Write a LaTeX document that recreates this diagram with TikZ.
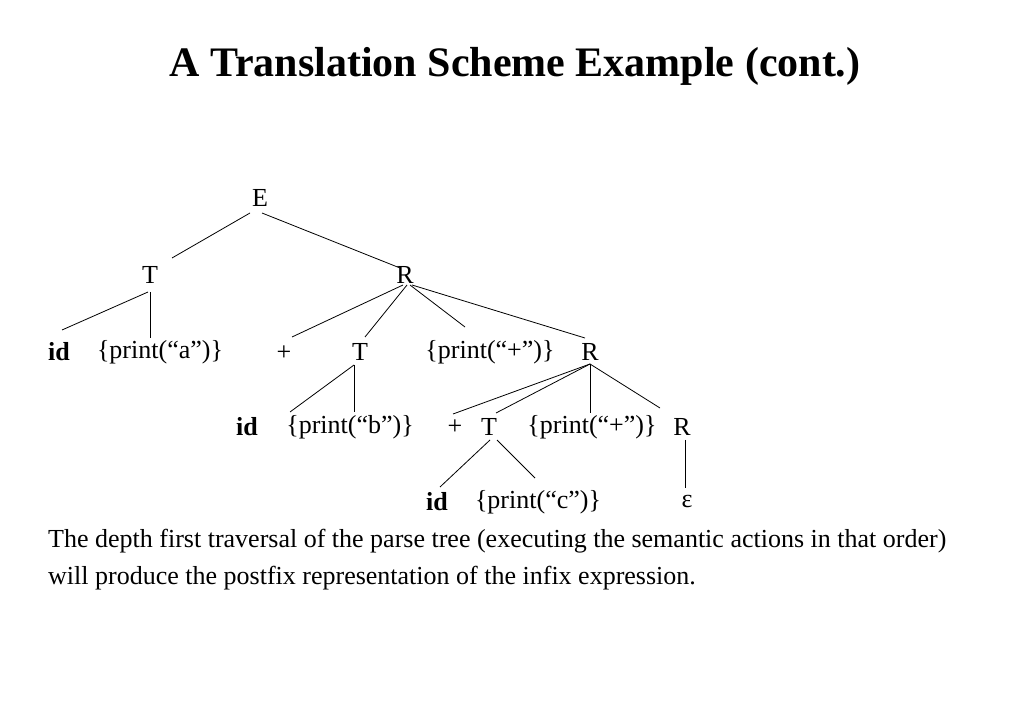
\documentclass[tikz,border=0pt]{standalone}
\usepackage{fontspec}
\setmainfont{Liberation Serif}
\begin{document}
\begin{tikzpicture}[x=1pt,y=-1pt,lbl/.style={inner sep=0pt,font=\fontsize{26}{30}\selectfont},edge/.style={draw,line width=0.8pt}]
\useasboundingbox (0,0) rectangle (1023,708);
\node[inner sep=0pt,font=\fontsize{42}{46}\selectfont\bfseries] (title) at (515,66) {A Translation Scheme Example (cont.)};
\node[lbl] (E) at (260,198) {E};
\node[lbl] (T1) at (150,275) {T};
\node[lbl] (R1) at (405,275) {R};
\node[lbl] (id1) at (59,352) {\textbf{id}};
\node[lbl] (pa) at (160,352) {\{print(“a”)\}};
\node[lbl] (p1) at (284,353) {+};
\node[lbl] (T2) at (360,352) {T};
\node[lbl] (pp1) at (490,352) {\{print(“+”)\}};
\node[lbl] (R2) at (590,352) {R};
\node[lbl] (id2) at (247,427) {\textbf{id}};
\node[lbl] (pb) at (350,427) {\{print(“b”)\}};
\node[lbl] (p2) at (455,427) {+};
\node[lbl] (T3) at (489,427) {T};
\node[lbl] (pp2) at (592,427) {\{print(“+”)\}};
\node[lbl] (R3) at (682,427) {R};
\node[lbl] (id3) at (437,502) {\textbf{id}};
\node[lbl] (pc) at (538,502) {\{print(“c”)\}};
\node[lbl] (eps) at (687,502) {ε};
\node[lbl,anchor=west] (txt1) at (48,541) {The depth first traversal of the parse tree (executing the semantic actions in that order)};
\node[lbl,anchor=west] (txt2) at (48,578) {will produce the postfix representation of the infix expression.};
\begin{scope}[edge]
\draw (250,213) -- (172,258);
\draw (262,213) -- (400,268);
\draw (148,292) -- (62,330);
\draw (150,292) -- (150,338);
\draw (403,285) -- (292,337);
\draw (407,285) -- (365,337);
\draw (410,285) -- (465,327);
\draw (412,285) -- (585,338);
\draw (590,364) -- (453,414);
\draw (590,364) -- (496,413);
\draw (590,364) -- (590,413);
\draw (590,364) -- (660,408);
\draw (354,365) -- (290,412);
\draw (354,365) -- (354,412);
\draw (490,440) -- (440,487);
\draw (497,440) -- (535,478);
\draw (685,440) -- (685,488);
\end{scope}
\end{tikzpicture}
\end{document}
